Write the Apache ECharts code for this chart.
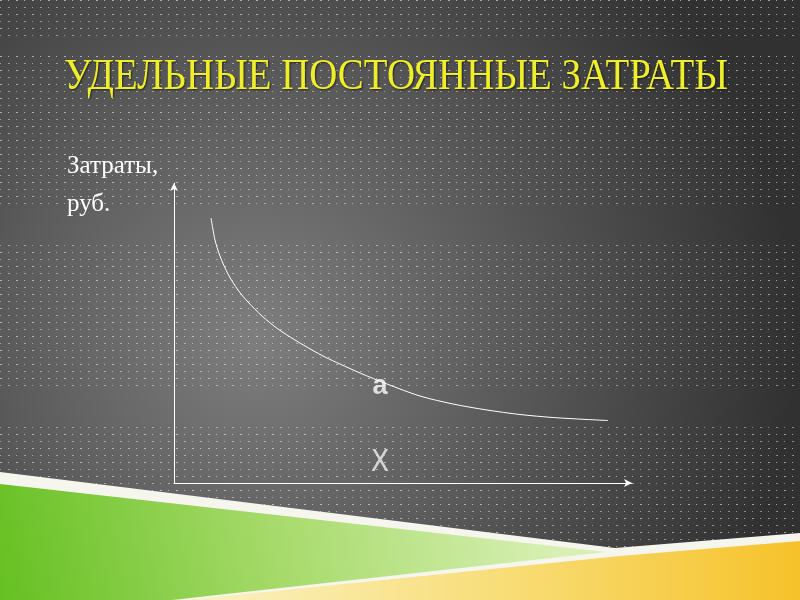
<!DOCTYPE html>
<html>
<head>
<meta charset="utf-8">
<script src="https://cdn.jsdelivr.net/npm/echarts@6/dist/echarts.min.js"></script>
<style>
html,body{margin:0;padding:0;background:#3a3a3a;}
#chart{width:800px;height:600px;}
</style>
</head>
<body>
<div id="chart"></div>
<script>
// ---- data ----
var titleText = 'УДЕЛЬНЫЕ ПОСТОЯННЫЕ ЗАТРАТЫ';
var yAxisName = ['Затраты,', 'руб.'];
var xAxisLabel = 'X';
var curveLabel = 'a';
var curveX = [8.08, 8.95, 10.04, 11.79, 13.97, 16.16, 19.21, 22.71, 26.42, 30.13, 32.97, 36.24, 40.61, 46.51, 53.71, 60.92, 68.34, 75.55, 82.75, 90.17, 94.76];
var curveY = [88.33, 81.0, 75.67, 69.67, 64.33, 60.33, 55.67, 51.33, 47.67, 44.33, 42.0, 39.67, 36.67, 33.0, 29.0, 26.33, 24.33, 22.83, 21.83, 21.17, 20.83];
var labelPoint = [45.0, 32.3];
var xLabelPoint = [45.0, 6.7];

// ---- dot pattern ----
var pc = document.createElement('canvas');
pc.width = 16; pc.height = 14;
var pctx = pc.getContext('2d');
pctx.fillStyle = 'rgba(255,255,255,0.55)';
pctx.fillRect(0, 0, 2, 1);
pctx.fillRect(8, 0, 1, 1);
pctx.fillStyle = 'rgba(255,255,255,0.45)';
pctx.fillRect(0, 7, 1, 1);
pctx.fillRect(8, 7, 2, 1);
var dots = {image: pc, repeat: 'repeat'};

var chart = echarts.init(document.getElementById('chart'), null, {renderer: 'canvas'});

function dotRect(y0, y1) {
  return {type: 'rect', z: -9, silent: true, shape: {x: 0, y: y0, width: 800, height: y1 - y0}, style: {fill: dots}};
}

var option = {
  backgroundColor: 'transparent',
  animation: false,
  grid: {left: 174, right: 168, top: 183, bottom: 117},
  xAxis: {
    type: 'value', min: 0, max: 100,
    axisLine: {show: true, symbol: ['none', 'arrow'], symbolSize: [6, 8], lineStyle: {color: '#ffffff', width: 1}},
    axisTick: {show: false}, axisLabel: {show: false}, splitLine: {show: false}
  },
  yAxis: {
    type: 'value', min: 0, max: 100,
    axisLine: {show: true, symbol: ['none', 'arrow'], symbolSize: [6, 8], lineStyle: {color: '#ffffff', width: 1}},
    axisTick: {show: false}, axisLabel: {show: false}, splitLine: {show: false}
  },
  graphic: [
    {type: 'rect', z: -10, silent: true, shape: {x: 0, y: 0, width: 800, height: 600},
      style: {fill: {type: 'radial', x: 0.32, y: 0.56, r: 0.9, colorStops: [
        {offset: 0, color: '#7e7e7e'}, {offset: 0.45, color: '#5c5c5c'}, {offset: 1, color: '#313131'}]}}},
    dotRect(0, 36), dotRect(56, 210), dotRect(245, 390), dotRect(422, 600),
    {type: 'polygon', z: -5, silent: true, shape: {points: [[0, 472], [615, 548], [800, 533], [800, 600], [0, 600]]},
      style: {fill: '#f6f6ee'}},
    {type: 'polygon', z: -4, silent: true, shape: {points: [[0, 484], [606, 552], [172, 600], [0, 600]]},
      style: {fill: {type: 'linear', x: 0.9, y: 0, x2: 0, y2: 1, colorStops: [
        {offset: 0, color: '#d8f0b4'}, {offset: 0.5, color: '#a6da6a'}, {offset: 1, color: '#66c022'}]}}},
    {type: 'polygon', z: -4, silent: true, shape: {points: [[186, 600], [620, 556], [800, 541], [800, 600]]},
      style: {fill: {type: 'linear', x: 0, y: 0, x2: 1, y2: 0, colorStops: [
        {offset: 0, color: '#faf2c4'}, {offset: 0.5, color: '#f8de7a'}, {offset: 1, color: '#f6c22a'}]}}},
    {type: 'text', left: 64, top: 55, silent: true, scaleX: 0.863,
      style: {text: titleText, fill: '#eeee2a', font: '45px "Liberation Serif", "DejaVu Serif", serif',
        textShadowColor: 'rgba(0,0,0,0.6)', textShadowBlur: 2, textShadowOffsetX: 1, textShadowOffsetY: 1}},
    {type: 'text', left: 67, top: 147, silent: true,
      style: {text: yAxisName.join('\n'), fill: '#ffffff', lineHeight: 38, font: '25px "Liberation Serif", "DejaVu Serif", serif'}}
  ],
  series: [
    {type: 'line', data: curveX.map(function (x, i) { return [x, curveY[i]]; }),
      smooth: 0.3, symbol: 'none', lineStyle: {color: '#ffffff', width: 1}, silent: true},
    {type: 'scatter', data: [labelPoint], symbolSize: 0, silent: true,
      label: {show: true, position: 'inside', formatter: curveLabel, color: '#ffffff',
        fontFamily: '"Liberation Sans", Arial, sans-serif', fontWeight: 'bold', fontSize: 27}},
    {type: 'scatter', data: [xLabelPoint], symbolSize: 0, silent: true,
      label: {show: true, position: 'inside', formatter: xAxisLabel, color: '#f0f0f0',
        fontFamily: '"Liberation Sans Narrow", "DejaVu Sans Condensed", sans-serif', fontWeight: 'normal', fontSize: 30}}
  ]
};
chart.setOption(option);
</script>
</body>
</html>
